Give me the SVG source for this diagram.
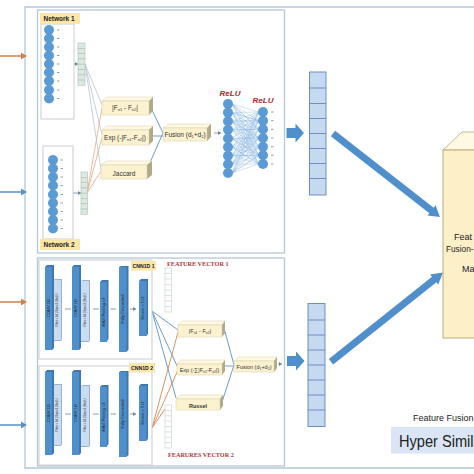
<svg xmlns="http://www.w3.org/2000/svg" width="474" height="474" viewBox="0 0 474 474">
<style>
text{font-family:"Liberation Sans",Arial,sans-serif;fill:#222}
.frame{fill:#fff;stroke:#b4c8d8;stroke-width:1.3}
.sub{fill:#fff;stroke:#c8ccd0;stroke-width:1}
.tag{fill:#fbe6a6}
.tagt{font-size:6.5px;font-weight:bold;text-anchor:middle}
.tagc{font-size:5.2px;font-weight:bold;text-anchor:middle}
.n{fill:#5b9bd5}
.vec{fill:#dce8e0;stroke:#a9c4b8;stroke-width:.6}
.vecw{fill:#fff;stroke:#c4cfc8;stroke-width:.6}
.big{fill:#c5d9f1;stroke:#6f8fc0;stroke-width:1}
.bf{fill:#fdf2cf;stroke:#d8cfa8;stroke-width:.5}
.bt{fill:#fff8e2;stroke:#d8cfa8;stroke-width:.5}
.bs{fill:#b0aa88}
.bl{font-size:6.5px;text-anchor:middle;fill:#333}
.bm{font-size:5.500px;text-anchor:middle;fill:#333}
.lo{stroke:#e0a888;stroke-width:.8;fill:none}
.lg{stroke:#b8c4d4;stroke-width:.8;fill:none}
.ln{stroke:#6ba3d8;stroke-width:.3;fill:none}
.lbd{stroke:#6f9cc8;stroke-width:1;fill:none}
.lod{stroke:#d8946a;stroke-width:1;fill:none}
.c{fill:#4f8fcb}
.cs{fill:#3f78ad}
.f{fill:#c9dcf2}
.fs{fill:#9fb0c4}
.sm{font-size:4px;text-anchor:middle}
.xs{font-size:2.800px;text-anchor:middle}
.red{font-family:"Liberation Serif",serif;font-size:6.200px;fill:#a83a3a;font-weight:bold}
.relu{font-size:8px;font-weight:bold;font-style:italic;fill:#a82828;text-anchor:middle}
.small{stroke:#6f8898;stroke-width:.8;fill:none}
.ar{stroke:#6f8898;stroke-width:.8;fill:none;marker-end:url(#asm)}
</style>
<defs>
<marker id="aor" markerWidth="5" markerHeight="5" refX="3.500" refY="2.500" orient="auto"><path d="M0 0L4 2.500L0 5z" fill="#d07f45"/></marker>
<marker id="abl" markerWidth="5" markerHeight="5" refX="3.500" refY="2.500" orient="auto"><path d="M0 0L4 2.500L0 5z" fill="#5b8fc0"/></marker>
<marker id="asm" markerWidth="4" markerHeight="4" markerUnits="userSpaceOnUse" refX="3" refY="2" orient="auto"><path d="M0 0L3 2L0 4z" fill="#6f8898"/></marker>
<circle id="nc" class="n" r="5"/>
<path id="fatarrow" d="M0-5H9V-9.500L17.500 0L9 9.500V5H0z" fill="#4f8fcb"/>
</defs>

<g id="outer-frame"><path class="frame" d="M476 7H25V468H476"/></g>

<g id="panel-top"><rect class="frame" x="37.500" y="10" width="247" height="243"/></g>
<g id="panel-bottom"><rect class="frame" x="37.500" y="258" width="247" height="208"/></g>

<g id="connectors">
<path d="M0 56H26" stroke="#d07f45" stroke-width="1.500" marker-end="url(#aor)"/>
<path d="M0 192H26" stroke="#5b8fc0" stroke-width="1.500" marker-end="url(#abl)"/>
<path d="M0 302H26" stroke="#d07f45" stroke-width="1.500" marker-end="url(#aor)"/>
<path d="M0 425H26" stroke="#5b8fc0" stroke-width="1.500" marker-end="url(#abl)"/>
<path class="ar" d="M74 64H78"/>
<path class="ar" d="M73 193H81"/>
<path class="lg" d="M85 64L102 105M85 64L102 135M85 64L101 170"/>
<path class="lo" d="M87 193L102 108M87 193L102 138M87 193L101 171"/>
<path class="lbd" d="M152 110L163 133M152 136H163M148 167L163 133"/>
<path class="ar" d="M214 133H221"/>
<path class="ln" d="M232 104L259 112L232 112.600L259 120.700L232 121.200L259 129.300L232 129.800L259 138L232 138.500L259 146.700L232 147.100L259 155.300L232 155.700L259 164L232 164.300M232 104L259 120.700L232 121.200L259 138L232 138.500L259 155.300L232 155.700M232 104L259 129.300L232 129.800L259 155.300L232 173L259 164L232 147.100L259 129.300L232 112.600L259 138L232 164.300L259 146.700L232 129.800L259 112L232 121.200L259 146.700L232 173L259 146.700L232 155.700L259 129.300L232 104M232 173L259 112L232 138.500L259 164L232 121.200L259 155.300L232 104L259 146.700L232 112.600L259 164L232 129.800L259 120.700L232 147.100L259 112L232 155.700L259 120.700L232 164.300L259 112M232 173L259 120.700L232 112.600L259 155.300L232 138.500L259 120.700M232 173L259 129.300L232 164.300L259 138L232 173L259 155.300L232 164.300M232 104L259 138L232 147.100L259 164M232 155.700L259 138L232 121.200"/>
<path class="lbd" d="M152 311L178 330M152 311L178 368M152 311L176 398"/>
<path class="lod" d="M152 428L178 332M152 428L178 370M152 428L167 406"/>
<path class="lbd" d="M224 328L234 365M224 366H234M222 402L234 365"/>
<path class="ar" d="M278 364H282"/>
</g>

<g id="network-1">
<rect class="sub" x="41" y="24" width="33" height="95"/>
<rect class="tag" x="40" y="13" width="40" height="11"/>
<text class="tagt" x="59" y="21">Network 1</text>
<use href="#nc" x="49" y="30"/><use href="#nc" x="49" y="38.500"/><use href="#nc" x="49" y="47"/><use href="#nc" x="49" y="55.500"/><use href="#nc" x="49" y="64"/><use href="#nc" x="49" y="72.500"/><use href="#nc" x="49" y="81"/><use href="#nc" x="49" y="90"/><use href="#nc" x="49" y="98.500"/>
<path class="small" d="M57 30h2.500M57 38.500h2.500M57 47h2.500M57 55.500h2.500M57 64h2.500M57 72.500h2.500M57 81h2.500M57 90h2.500M57 98.500h2.500"/>
</g>
<g id="vector-1">
<rect class="vec" x="78" y="43" width="7" height="5.300"/><rect class="vec" x="78" y="48.300" width="7" height="5.300"/><rect class="vec" x="78" y="53.600" width="7" height="5.300"/><rect class="vec" x="78" y="58.900" width="7" height="5.300"/><rect class="vec" x="78" y="64.200" width="7" height="5.300"/><rect class="vec" x="78" y="69.500" width="7" height="5.300"/><rect class="vec" x="78" y="74.800" width="7" height="5.300"/><rect class="vec" x="78" y="80.100" width="7" height="5.300"/>
</g>
<g id="network-2">
<rect class="sub" x="43" y="146" width="30" height="93"/>
<rect class="tag" x="40" y="239" width="40" height="11"/>
<text class="tagt" x="59" y="247">Network 2</text>
<use href="#nc" x="53" y="160"/><use href="#nc" x="53" y="168.500"/><use href="#nc" x="53" y="177"/><use href="#nc" x="53" y="185.500"/><use href="#nc" x="53" y="194.500"/><use href="#nc" x="53" y="203"/><use href="#nc" x="53" y="211.500"/><use href="#nc" x="53" y="220"/><use href="#nc" x="53" y="228.500"/>
<path class="small" d="M60.500 160h2.500M60.500 168.500h2.500M60.500 177h2.500M60.500 185.500h2.500M60.500 194.500h2.500M60.500 203h2.500M60.500 211.500h2.500M60.500 220h2.500M60.500 228.500h2.500"/>
</g>
<g id="vector-2">
<rect class="vec" x="81" y="172" width="6.500" height="5.300"/><rect class="vec" x="81" y="177.300" width="6.500" height="5.300"/><rect class="vec" x="81" y="182.600" width="6.500" height="5.300"/><rect class="vec" x="81" y="187.900" width="6.500" height="5.300"/><rect class="vec" x="81" y="193.200" width="6.500" height="5.300"/><rect class="vec" x="81" y="198.500" width="6.500" height="5.300"/><rect class="vec" x="81" y="203.800" width="6.500" height="5.300"/><rect class="vec" x="81" y="209.100" width="6.500" height="5.300"/>
</g>

<g id="block-abs-1">
<path class="bt" d="M102 101L107 97H153L149 101z"/><path class="bs" d="M149 101L153 97V111L149 115z"/><rect class="bf" x="102" y="101" width="47" height="14"/>
<text class="bl" x="125" y="110">|F<tspan font-size="4" dy="1">n1</tspan><tspan dy="-1"> - F</tspan><tspan font-size="4" dy="1">n2</tspan><tspan dy="-1">|</tspan></text>
</g>
<g id="block-exp-1">
<path class="bt" d="M102 130L107 126H153L149 130z"/><path class="bs" d="M149 130L153 126V141L149 145z"/><rect class="bf" x="102" y="130" width="47" height="15"/>
<text class="bl" x="125" y="140">Exp (-|F<tspan font-size="4" dy="1">n1</tspan><tspan dy="-1">-F</tspan><tspan font-size="4" dy="1">n2</tspan><tspan dy="-1">|)</tspan></text>
</g>
<g id="block-jaccard">
<path class="bt" d="M101 165L106 161H152L147 165z"/><path class="bs" d="M147 165L152 161V175L147 179z"/><rect class="bf" x="101" y="165" width="46" height="14"/>
<text class="bl" x="124" y="176">Jaccard</text>
</g>
<g id="block-fusion-1">
<path class="bt" d="M163 128L168 124H211L207 128z"/><path class="bs" d="M207 128L211 124V137L207 141z"/><rect class="bf" x="163" y="128" width="44" height="13"/>
<text class="bl" x="185" y="136.500">Fusion (d<tspan font-size="4" dy="1">1</tspan><tspan dy="-1">+d</tspan><tspan font-size="4" dy="1">2</tspan><tspan dy="-1">)</tspan></text>
</g>
<g id="relu-1">
<text class="relu" x="230" y="96">ReLU</text>
<use href="#nc" x="228" y="104"/><use href="#nc" x="228" y="112.600"/><use href="#nc" x="228" y="121.200"/><use href="#nc" x="228" y="129.800"/><use href="#nc" x="228" y="138.500"/><use href="#nc" x="228" y="147.100"/><use href="#nc" x="228" y="155.700"/><use href="#nc" x="228" y="164.300"/><use href="#nc" x="228" y="173"/>
</g>
<g id="relu-2">
<text class="relu" x="263" y="103">ReLU</text>
<use href="#nc" x="263" y="112"/><use href="#nc" x="263" y="120.700"/><use href="#nc" x="263" y="129.300"/><use href="#nc" x="263" y="138"/><use href="#nc" x="263" y="146.700"/><use href="#nc" x="263" y="155.300"/><use href="#nc" x="263" y="164"/>
<path class="small" d="M271 112h2.500M271 120.700h2.500M271 129.300h2.500M271 138h2.500M271 146.700h2.500M271 155.300h2.500M271 164h2.500"/>
</g>
<g id="arrow-top"><use href="#fatarrow" x="286.500" y="133"/></g>

<g id="cnn-1">
<rect class="sub" x="39" y="260" width="113" height="99"/>
<rect class="tag" x="131" y="261" width="25" height="9.500"/>
<text class="tagc" x="143.500" y="268">CNN1D 1</text>
<g id="cnn1-layers">
<path class="fs" d="M53 280L55 279H62V339L61 341H53z"/><rect class="f" x="53" y="280" width="8" height="60"/>
<path class="cs" d="M45 267L47 265H54V348L52 350H45z"/><rect class="c" x="45" y="267" width="7" height="83"/>
<path class="fs" d="M81 281L83 280H90V340L89 342H81z"/><rect class="f" x="81" y="281" width="8" height="60"/>
<path class="cs" d="M72 267L74 265H81V348L79 350H72z"/><rect class="c" x="72" y="267" width="7" height="83"/>
<path class="cs" d="M100 282L102 280H108.500V339L106.500 342H100z"/><rect class="c" x="100" y="282" width="7" height="60"/>
<path class="cs" d="M119 267L121 266H128.500V350L126 352H119z"/><rect class="c" x="119" y="267" width="7.500" height="85"/>
<path class="cs" d="M139 281L141 279H148V334L146 336H139z"/><rect class="c" x="139" y="281" width="7.500" height="55"/>
<path class="ar" d="M65 309H71M93 309H99M110.500 309H116M130 309H136"/>
<text class="sm" transform="translate(50 308) rotate(-90)">CONV 1D</text>
<text class="xs" transform="translate(58 310) rotate(-90)">Filter = 64 | Size=3 | ReLU</text>
<text class="sm" transform="translate(77 308) rotate(-90)">CONV 1D</text>
<text class="xs" transform="translate(86 310) rotate(-90)">Filter = 64 | Size=3 | ReLU</text>
<text class="sm" transform="translate(105 312) rotate(-90)">MAX Pooling =2</text>
<text class="sm" transform="translate(124 309) rotate(-90)">Fully Connected</text>
<text class="sm" transform="translate(144 308) rotate(-90)">Dense = 512</text>
</g>
</g>
<g id="cnn-2">
<rect class="sub" x="39" y="366" width="113" height="99"/>
<rect class="tag" x="129" y="363" width="26" height="9.500"/>
<text class="tagc" x="142" y="370">CNN1D 2</text>
<g id="cnn2-layers">
<path class="fs" d="M53 385L55 384H62V444L61 446H53z"/><rect class="f" x="53" y="385" width="8" height="60"/>
<path class="cs" d="M45 372L47 370H54V453L52 455H45z"/><rect class="c" x="45" y="372" width="7" height="83"/>
<path class="fs" d="M81 386L83 385H90V445L89 447H81z"/><rect class="f" x="81" y="386" width="8" height="60"/>
<path class="cs" d="M72 372L74 370H81V453L79 455H72z"/><rect class="c" x="72" y="372" width="7" height="83"/>
<path class="cs" d="M100 387L102 385H108.500V444L106.500 447H100z"/><rect class="c" x="100" y="387" width="7" height="60"/>
<path class="cs" d="M119 372L121 371H128.500V455L126 457H119z"/><rect class="c" x="119" y="372" width="7.500" height="85"/>
<path class="cs" d="M139 386L141 384H148V439L146 441H139z"/><rect class="c" x="139" y="386" width="7.500" height="55"/>
<path class="ar" d="M65 414H71M93 414H99M110.500 414H116M130 414H136"/>
<text class="sm" transform="translate(50 413) rotate(-90)">CONV 1D</text>
<text class="xs" transform="translate(58 415) rotate(-90)">Filter = 64 | Size=3 | ReLU</text>
<text class="sm" transform="translate(77 413) rotate(-90)">CONV 1D</text>
<text class="xs" transform="translate(86 415) rotate(-90)">Filter = 64 | Size=3 | ReLU</text>
<text class="sm" transform="translate(105 417) rotate(-90)">MAX Pooling =2</text>
<text class="sm" transform="translate(124 414) rotate(-90)">Fully Connected</text>
<text class="sm" transform="translate(144 413) rotate(-90)">Dense = 512</text>
</g>
</g>

<g id="feature-vector-1">
<text class="red" x="167" y="266">FEATURE VECTOR 1</text>
<rect class="vecw" x="165" y="268" width="6.500" height="44"/>
<path class="vecw" d="M165 273.500h6.500M165 279h6.500M165 284.500h6.500M165 290h6.500M165 295.500h6.500M165 301h6.500M165 306.500h6.500"/>
</g>
<g id="feature-vector-2">
<text class="red" x="168" y="457">FEARURES VECTOR 2</text>
<rect class="vecw" x="165" y="405" width="6.500" height="43"/>
<path class="vecw" d="M165 410.400h6.500M165 415.800h6.500M165 421.100h6.500M165 426.500h6.500M165 431.900h6.500M165 437.300h6.500M165 442.600h6.500"/>
</g>

<g id="block-abs-2">
<path class="bt" d="M178 325L182 321H225L222 325z"/><path class="bs" d="M222 325L225 321V333L222 337z"/><rect class="bf" x="178" y="325" width="44" height="12"/>
<text class="bm" x="200" y="333">|F<tspan font-size="3.500" dy="1">n1</tspan><tspan dy="-1"> - F</tspan><tspan font-size="3.500" dy="1">n2</tspan><tspan dy="-1">|</tspan></text>
</g>
<g id="block-exp-2">
<path class="bt" d="M177 364L181 360H225L222 364z"/><path class="bs" d="M222 364L225 360V371L222 375z"/><rect class="bf" x="177" y="364" width="45" height="11"/>
<text class="bm" x="199.500" y="372">Exp (-∑|F<tspan font-size="3.500" dy="1">n1</tspan><tspan dy="-1">-F</tspan><tspan font-size="3.500" dy="1">n2</tspan><tspan dy="-1">|)</tspan></text>
</g>
<g id="block-russel">
<path class="bt" d="M176 399L180 395H223L220 399z"/><path class="bs" d="M220 399L223 395V406L220 410z"/><rect class="bf" x="176" y="399" width="44" height="11"/>
<text class="bm" x="198" y="407.500" font-weight="bold">Russel</text>
</g>
<g id="block-fusion-2">
<path class="bt" d="M234 361L238 357H277L274 361z"/><path class="bs" d="M274 361L277 357V368L274 372z"/><rect class="bf" x="234" y="361" width="40" height="11"/>
<text class="bm" x="254" y="368.500">Fusion (d<tspan font-size="3.500" dy="1">1</tspan><tspan dy="-1">+d</tspan><tspan font-size="3.500" dy="1">2</tspan><tspan dy="-1">)</tspan></text>
</g>
<g id="arrow-bottom"><use href="#fatarrow" x="287" y="361"/></g>

<g id="output-vector-1">
<rect class="big" x="309.500" y="72" width="16.500" height="123"/>
<path class="big" d="M309.500 88H326M309.500 103.500H326M309.500 118.500H326M309.500 133.500H326M309.500 148.500H326M309.500 163.500H326M309.500 178.500H326"/>
</g>
<g id="output-vector-2">
<rect class="big" x="308" y="303.500" width="17" height="123"/>
<path class="big" d="M308 320H325M308 335H325M308 350H325M308 365H325M308 380H325M308 395H325M308 410H325"/>
</g>
<path id="arrow-to-fusion-1" d="M335.150 130.740L433.650 207.640L435.500 205.300L440 217L427.500 215.500L429.350 213.160L330.850 136.260z" fill="#4f8fcb"/>
<path id="arrow-to-fusion-2" d="M333.200 364.400L436.400 282.200L438.200 284.600L443 272.500L430.100 274.400L432 276.800L328.800 359z" fill="#4f8fcb"/>

<g id="fusion-block">
<path d="M443 150L462 132H476V150z" fill="#fff8e2" stroke="#c4bb90"/>
<rect x="443" y="150" width="35" height="188" fill="#fdf0c8" stroke="#b8ae80"/>
<text x="454" y="240" font-size="9">Feat</text>
<text x="446" y="252" font-size="9" textLength="27.500" lengthAdjust="spacingAndGlyphs">Fusion-</text>
<text x="462" y="272" font-size="9">Ma</text>
</g>
<g id="caption">
<text x="413" y="421" font-size="9">Feature Fusion</text>
<rect x="391" y="427" width="85" height="26.500" fill="#dae6f5"/>
<text x="399" y="447" font-size="16" textLength="74.500" lengthAdjust="spacingAndGlyphs">Hyper Simil</text>
</g>
</svg>
